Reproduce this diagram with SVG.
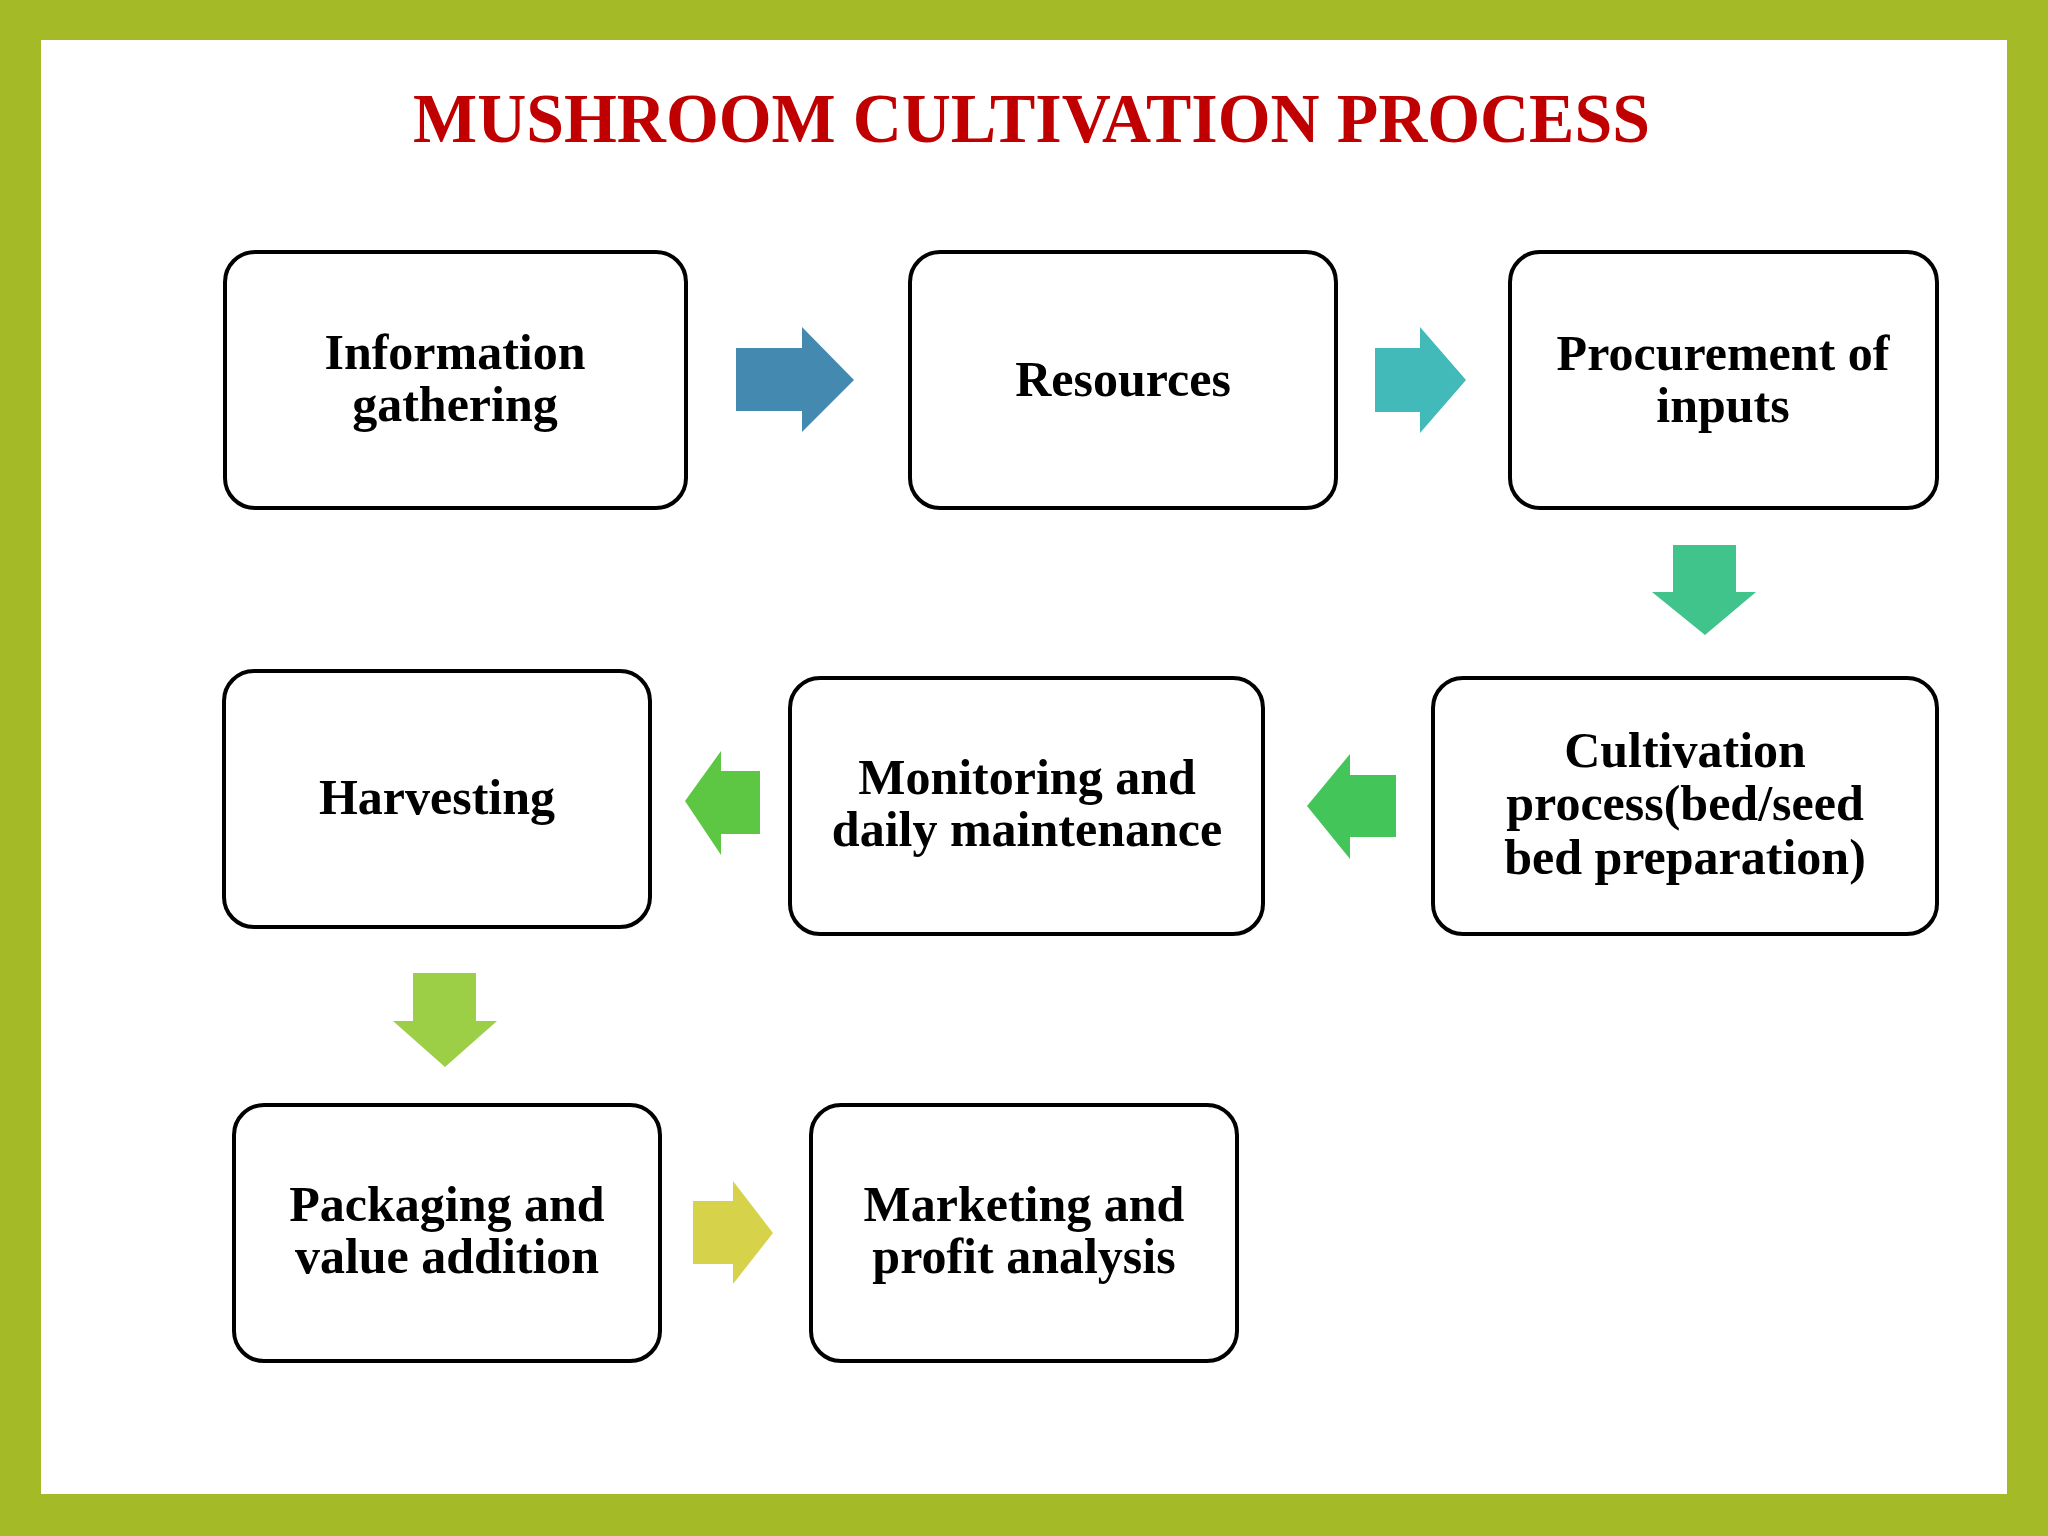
<svg xmlns="http://www.w3.org/2000/svg" width="2048" height="1536" viewBox="0 0 2048 1536">
<style>
.box{fill:#ffffff;stroke:#000000;stroke-width:4}
.lbl{font-family:"Liberation Serif","Times New Roman",serif;font-weight:bold;font-size:50px;fill:#000000;text-anchor:middle}
.title{font-family:"Liberation Serif","Times New Roman",serif;font-weight:bold;font-size:70px;fill:#C00000}
</style>
<rect x="0" y="0" width="2048" height="1536" fill="#A4BA26"/>
<rect x="41" y="40" width="1966" height="1454" fill="#ffffff"/>
<text class="title" x="413" y="142" textLength="1237" lengthAdjust="spacingAndGlyphs">MUSHROOM CULTIVATION PROCESS</text>
<g id="connectors">
<polygon fill="#4389B0" points="736,348 802,348 802,327 854,380 802,432 802,411 736,411"/>
<polygon fill="#42BAB9" points="1375,348 1420,348 1420,327 1466,380 1420,433 1420,412 1375,412"/>
<polygon fill="#40C48C" points="1673,545 1736,545 1736,592 1756,592 1705,635 1652,592 1673,592"/>
<polygon fill="#44C55A" points="1396,775 1350,775 1350,754 1307,806 1350,859 1350,837 1396,837"/>
<polygon fill="#5DC744" points="760,771 721,771 721,751 685,801 721,855 721,834 760,834"/>
<polygon fill="#9DCF46" points="413,973 476,973 476,1021 497,1021 445,1067 393,1021 413,1021"/>
<polygon fill="#D6D34A" points="693,1201 733,1201 733,1181 773,1233 733,1284 733,1264 693,1264"/>
</g>
<g id="node1">
<rect class="box" x="225" y="252" width="461" height="256" rx="30"/>
<text class="lbl" x="455" y="369">Information</text>
<text class="lbl" x="455" y="421">gathering</text>
</g>
<g id="node2">
<rect class="box" x="910" y="252" width="426" height="256" rx="30"/>
<text class="lbl" x="1123" y="396">Resources</text>
</g>
<g id="node3">
<rect class="box" x="1510" y="252" width="427" height="256" rx="30"/>
<text class="lbl" x="1723" y="370">Procurement of</text>
<text class="lbl" x="1723" y="422">inputs</text>
</g>
<g id="node4">
<rect class="box" x="1433" y="678" width="504" height="256" rx="30"/>
<text class="lbl" x="1685" y="767">Cultivation</text>
<text class="lbl" x="1685" y="820">process(bed/seed</text>
<text class="lbl" x="1685" y="874">bed preparation)</text>
</g>
<g id="node5">
<rect class="box" x="790" y="678" width="473" height="256" rx="30"/>
<text class="lbl" x="1027" y="794">Monitoring and</text>
<text class="lbl" x="1027" y="846">daily maintenance</text>
</g>
<g id="node6">
<rect class="box" x="224" y="671" width="426" height="256" rx="30"/>
<text class="lbl" x="437" y="814">Harvesting</text>
</g>
<g id="node7">
<rect class="box" x="234" y="1105" width="426" height="256" rx="30"/>
<text class="lbl" x="447" y="1221">Packaging and</text>
<text class="lbl" x="447" y="1273">value addition</text>
</g>
<g id="node8">
<rect class="box" x="811" y="1105" width="426" height="256" rx="30"/>
<text class="lbl" x="1024" y="1221">Marketing and</text>
<text class="lbl" x="1024" y="1273">profit analysis</text>
</g>
</svg>
